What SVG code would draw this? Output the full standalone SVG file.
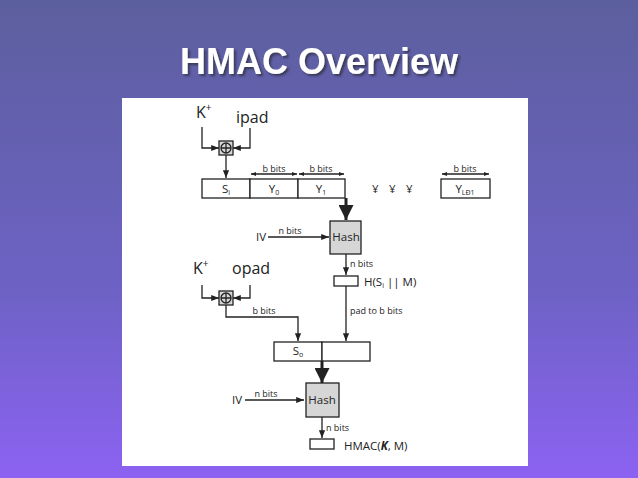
<svg xmlns="http://www.w3.org/2000/svg" width="638" height="478" viewBox="0 0 638 478">
<defs>
<linearGradient id="bg" x1="0" y1="0" x2="0" y2="1"><stop offset="0" stop-color="#5c5f9e"/><stop offset="0.6" stop-color="#6d62c4"/><stop offset="1" stop-color="#8c62f2"/></linearGradient>
<filter id="sh" x="-10%" y="-30%" width="120%" height="160%"><feDropShadow dx="2" dy="2" stdDeviation="0.8" flood-color="#222" flood-opacity="0.6"/></filter>
<marker id="a" viewBox="0 0 10 10" refX="10" refY="5" markerWidth="6" markerHeight="6" orient="auto"><path d="M0,1L10,5L0,9z" fill="#222"/></marker>
<marker id="as" viewBox="0 0 10 10" refX="10" refY="5" markerWidth="4" markerHeight="4" orient="auto-start-reverse"><path d="M0,1L10,5L0,9z" fill="#222"/></marker>
<marker id="big" viewBox="0 0 10 10" refX="10" refY="5" markerWidth="5" markerHeight="5" orient="auto"><path d="M0,0L10,5L0,10z" fill="#222"/></marker>
</defs>
<style>
.l{stroke:#222;stroke-width:1.3;fill:none}
.b{fill:#fff;stroke:#222;stroke-width:1.3}
.h{fill:#d6d6d6;stroke:#222;stroke-width:1.3}
.t{font-family:"Open Sans","Liberation Sans",sans-serif;fill:#222}
.s{font-size:9px}.m{font-size:11.5px}.g{font-size:16px}
</style>
<rect width="638" height="478" fill="url(#bg)"/>
<text x="319" y="74" text-anchor="middle" font-family="Liberation Sans,sans-serif" font-weight="bold" font-size="36" fill="#fff" filter="url(#sh)">HMAC Overview</text>
<rect x="122" y="98" width="406" height="368" fill="#fff"/>
<g id="connectors">
<path class="l" d="M202,127V148H219" marker-end="url(#a)"/>
<path class="l" d="M250,128V148H233" marker-end="url(#a)"/>
<path class="l" d="M226,155V178" marker-end="url(#a)"/>
<path class="l" d="M251,174H297" marker-start="url(#as)" marker-end="url(#as)"/>
<path class="l" d="M299,174H344" marker-start="url(#as)" marker-end="url(#as)"/>
<path class="l" d="M442,174H489" marker-start="url(#as)" marker-end="url(#as)"/>
<path d="M346,198V220" stroke="#222" stroke-width="3" marker-end="url(#big)"/>
<path class="l" d="M268,237H329" marker-end="url(#a)"/>
<path class="l" d="M346,254V275" marker-end="url(#a)"/>
<path class="l" d="M202,285V298H219" marker-end="url(#a)"/>
<path class="l" d="M250,285V298H233" marker-end="url(#a)"/>
<path class="l" d="M226,305V317H298V341" marker-end="url(#a)"/>
<path class="l" d="M346,286V341" marker-end="url(#a)"/>
<path d="M322,361V383" stroke="#222" stroke-width="3" marker-end="url(#big)"/>
<path class="l" d="M245,400H304" marker-end="url(#a)"/>
<path class="l" d="M322,417V438" marker-end="url(#a)"/>
</g>
<g id="kplus1"><text class="t g" x="196" y="118">K<tspan font-size="10" dy="-7">+</tspan></text></g>
<g id="ipad"><text class="t g" x="236" y="123">ipad</text></g>
<g id="xor1"><rect x="219" y="141" width="14" height="14" class="h"/><circle cx="226" cy="148" r="5" class="l"/><path class="l" d="M221,148H231M226,143V153"/></g>
<g id="msg">
<rect x="202" y="179" width="48" height="19" class="b"/><text class="t m" x="226" y="193" text-anchor="middle">S<tspan font-size="7" dy="2">i</tspan></text>
<rect x="250" y="179" width="48" height="19" class="b"/><text class="t m" x="274" y="193" text-anchor="middle">Y<tspan font-size="7" dy="2">0</tspan></text>
<rect x="298" y="179" width="47" height="19" class="b"/><text class="t m" x="321" y="193" text-anchor="middle">Y<tspan font-size="7" dy="2">1</tspan></text>
<text class="t m" x="372" y="193">¥</text><text class="t m" x="389" y="193">¥</text><text class="t m" x="406" y="193">¥</text>
<rect x="441" y="179" width="49" height="19" class="b"/><text class="t m" x="465" y="193" text-anchor="middle">Y<tspan font-size="7" dy="2">LÐ1</tspan></text>
<text class="t s" x="274" y="172" text-anchor="middle">b bits</text><text class="t s" x="321" y="172" text-anchor="middle">b bits</text><text class="t s" x="465" y="172" text-anchor="middle">b bits</text>
</g>
<g id="hash1"><rect x="330" y="221" width="31" height="33" class="h"/><text class="t m" x="346" y="241" text-anchor="middle">Hash</text></g>
<g id="iv1"><text class="t m" x="256" y="241">IV</text><text class="t s" x="290" y="234" text-anchor="middle">n bits</text></g>
<text class="t s" x="350" y="267">n bits</text>
<g id="hsm"><rect x="334" y="276" width="24" height="10" class="b"/><text class="t m" x="364" y="286">H(S<tspan font-size="7" dy="2">i</tspan><tspan dy="-2"> || M)</tspan></text></g>
<g id="kplus2"><text class="t g" x="193" y="274">K<tspan font-size="10" dy="-7">+</tspan></text></g>
<g id="opad"><text class="t g" x="232" y="274">opad</text></g>
<g id="xor2"><rect x="219" y="291" width="14" height="14" class="h"/><circle cx="226" cy="298" r="5" class="l"/><path class="l" d="M221,298H231M226,293V303"/></g>
<text class="t s" x="264" y="314" text-anchor="middle">b bits</text>
<text class="t s" x="350" y="314">pad to b bits</text>
<g id="so"><rect x="274" y="342" width="48" height="19" class="b"/><rect x="322" y="342" width="48" height="19" class="b"/><text class="t m" x="298" y="355" text-anchor="middle">S<tspan font-size="7" dy="2">o</tspan></text></g>
<g id="hash2"><rect x="306" y="383" width="33" height="34" class="h"/><text class="t m" x="322" y="404" text-anchor="middle">Hash</text></g>
<g id="iv2"><text class="t m" x="232" y="404">IV</text><text class="t s" x="266" y="397" text-anchor="middle">n bits</text></g>
<text class="t s" x="326" y="431">n bits</text>
<g id="hmac"><rect x="310" y="439" width="24" height="10" class="b"/><text class="t m" x="344" y="450">HMAC(<tspan font-weight="bold" font-style="italic">K</tspan>, M)</text></g>
</svg>
